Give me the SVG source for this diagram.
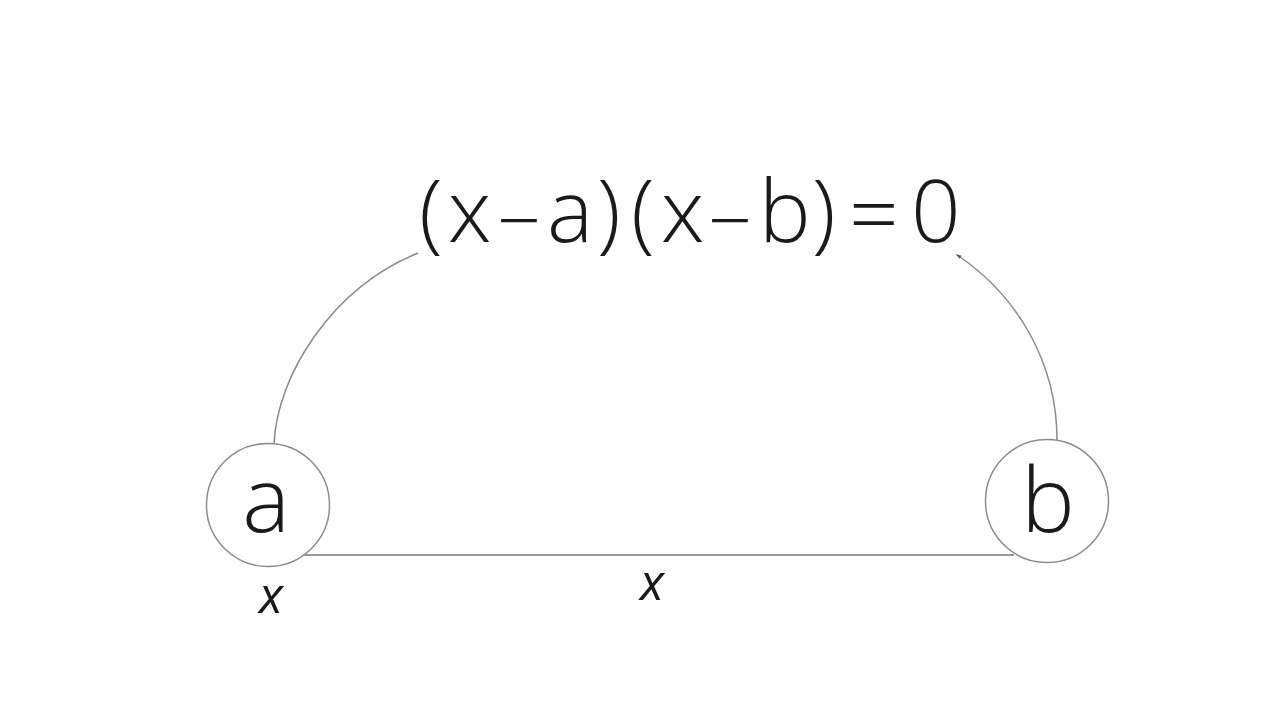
<svg xmlns="http://www.w3.org/2000/svg" width="1280" height="720" viewBox="0 0 1280 720">
  <defs>
    <style>
      .node { fill: #ffffff; stroke: #8c8c8c; stroke-width: 1.5; }
      .conn { fill: none; stroke: #8a8a8a; stroke-width: 1.5; }
      .base { fill: none; stroke: #999999; stroke-width: 2.2; }
      .big { font-family: "Open Sans", "Noto Sans", sans-serif; font-weight: 300; fill: #1a1a1a; }
      .var { font-family: "Open Sans", "Noto Sans", sans-serif; font-style: italic; font-weight: 400; fill: #1a1a1a; }
    </style>
    <marker id="tip" viewBox="0 0 10 10" refX="1" refY="5" markerWidth="4" markerHeight="4" orient="auto-start-reverse">
      <path d="M0,2 L10,5 L0,8 z" fill="#555555"/>
    </marker>
  </defs>
  <rect width="1280" height="720" fill="#ffffff"/>

  <g id="connectors">
    <path class="conn" d="M274,444 C277,375 332,288 418,253"/>
    <path class="conn" d="M960,257 C1015,295 1057,360 1057,440" marker-start="url(#tip)"/>
    <path class="base" d="M304,555 L1014,555"/>
  </g>

  <g id="equation">
    <text class="big" font-size="87" y="242" x="419 448">(x</text>
    <text class="big" font-size="77" y="248" x="497">−</text>
    <text class="big" font-size="87" y="242" x="547 597 631 661">a)(x</text>
    <text class="big" font-size="77" y="248" x="708">−</text>
    <text class="big" font-size="87" y="242" x="759 812">b)</text>
    <text class="big" font-size="87" y="245" x="849">=</text>
    <text class="big" font-size="87" y="242" x="911">0</text>
  </g>

  <g id="node-a">
    <circle class="node" cx="268" cy="505" r="61.5"/>
    <text class="big" font-size="90" x="266" y="532" text-anchor="middle">a</text>
  </g>

  <g id="node-b">
    <circle class="node" cx="1047" cy="501" r="61.5"/>
    <text class="big" font-size="90" x="1048" y="532" text-anchor="middle">b</text>
  </g>

  <g id="label-x-a">
    <text class="var" font-size="50" x="271" y="613" text-anchor="middle">x</text>
  </g>
  <g id="label-x-mid">
    <text class="var" font-size="50" x="652" y="600" text-anchor="middle">x</text>
  </g>
</svg>
